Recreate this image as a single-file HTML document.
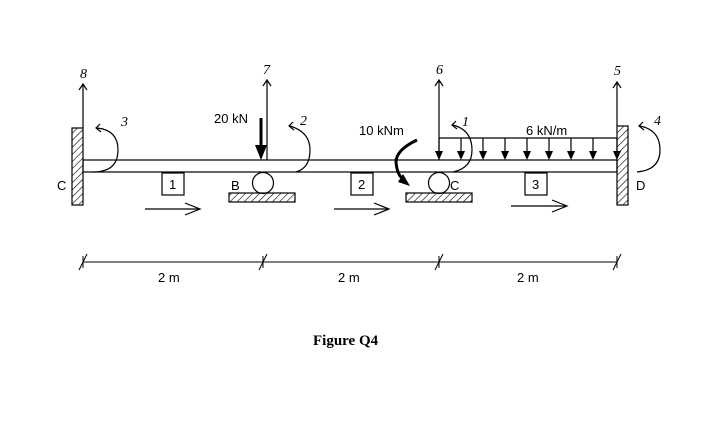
<!DOCTYPE html>
<html><head><style>body{margin:0;background:#fff}svg{display:block}</style></head><body>
<svg width="719" height="421" viewBox="0 0 719 421" font-family="Liberation Sans, sans-serif">
<defs>
<pattern id="h" width="5" height="5" patternUnits="userSpaceOnUse" patternTransform="rotate(45)"><line x1="0" y1="0" x2="0" y2="5" stroke="#000" stroke-width="1.2"/></pattern>
</defs>
<g stroke="#000" fill="none" stroke-width="1.2">
<rect x="83" y="160" width="534" height="12"/>
<rect x="72" y="128" width="11" height="77" fill="url(#h)"/>
<rect x="617" y="126" width="11" height="79" fill="url(#h)"/>
<circle cx="263" cy="183" r="10.5" fill="#fff"/>
<rect x="229" y="193" width="66" height="9" fill="url(#h)"/>
<circle cx="439" cy="183" r="10.5" fill="#fff"/>
<rect x="406" y="193" width="66" height="9" fill="url(#h)"/>
<rect x="162" y="173" width="22" height="22"/>
<rect x="351" y="173" width="22" height="22"/>
<rect x="525" y="173" width="22" height="22"/>
<path d="M145 209H200M185 203L200 209L185 215"/>
<path d="M334 209H389M374 203L389 209L374 215"/>
<path d="M511 206H567M552 200L567 206L552 212"/>
<path d="M83 128V84M79 90L83 84L87 90"/>
<path d="M267 160V80M263 86L267 80L271 86"/>
<path d="M439 160V80M435 86L439 80L443 86"/>
<path d="M617 126V82M613 88L617 82L621 88"/>
<path d="M93 172Q118 172 118 150Q118 130 97 128M100 124L96 128L101 132"/>
<path d="M296 172Q310 168 310 150Q310 132 290 126M293 122L289 126L294 130"/>
<path d="M453 172Q472 168 472 150Q472 130 453 125M456 121L452 125L457 129"/>
<path d="M637 172Q660 170 660 150Q660 130 640 126M643 122L639 126L644 130"/>
<path d="M439 138H617"/>
<path d="M83 262H617M79 270L87 254M259 270L267 254M435 270L443 254M613 270L621 254M83 256V268M263 256V268M439 256V268M617 256V268" stroke-width="1"/>
<path d="M417 140Q396 150 396 162Q397 174 402 178" stroke-width="3"/>
</g>
<g fill="#000">
<path d="M398 182L410 186L403 174Z"/>
<g id="da">
<line x1="439" y1="138" x2="439" y2="152" stroke="#000" stroke-width="1.2"/><path d="M435 151L443 151L439 160Z"/></g>
<use href="#da" x="22"/><use href="#da" x="44"/><use href="#da" x="66"/><use href="#da" x="88"/><use href="#da" x="110"/><use href="#da" x="132"/><use href="#da" x="154"/><use href="#da" x="178"/>
<rect x="259.5" y="118" width="3" height="28"/><path d="M255 145L267 145L261 160Z"/>
</g>
<g font-size="13" fill="#000">
<text x="57" y="190">C</text><text x="231" y="190">B</text><text x="450" y="190">C</text><text x="636" y="190">D</text>
<text x="169" y="189">1</text><text x="358" y="189">2</text><text x="532" y="189">3</text>
<text x="214" y="123">20 kN</text><text x="359" y="135">10 kNm</text><text x="526" y="135">6 kN/m</text>
<text x="158" y="282">2 m</text><text x="338" y="282">2 m</text><text x="517" y="282">2 m</text>
</g>
<g font-family="Liberation Serif, serif" font-style="italic" font-size="14" fill="#000">
<text x="80" y="78">8</text><text x="263" y="74">7</text><text x="436" y="74">6</text><text x="614" y="75">5</text>
<text x="121" y="126">3</text><text x="300" y="125">2</text><text x="462" y="126">1</text><text x="654" y="125">4</text>
</g>
<text x="313" y="345" font-family="Liberation Serif, serif" font-weight="bold" font-size="15">Figure Q4</text>
</svg>
</body></html>
